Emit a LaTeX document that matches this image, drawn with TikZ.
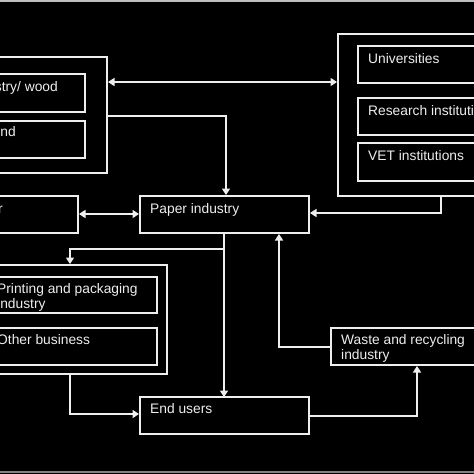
\documentclass[tikz,border=0pt]{standalone}
\usepackage{fontspec}
\setmainfont{Liberation Sans}
\usetikzlibrary{arrows.meta,fit}
\definecolor{fg}{HTML}{EEEEEE}
\definecolor{topline}{HTML}{BEBEBE}
\definecolor{botline}{HTML}{808080}
\begin{document}
\begin{tikzpicture}[x=1pt,y=-1pt,
  box/.style={draw=fg, line width=2pt, inner sep=0pt, fit={#1}},
  lbl/.style={text=fg, font=\fontsize{13.8}{15}\selectfont, inner sep=0pt, anchor=base west, align=left},
  lble/.style={lbl, anchor=base east},
  link/.style={draw=fg, line width=2pt},
  arr/.style={link, -{Triangle[length=6.5pt,width=8pt]}},
  darr/.style={link, {Triangle[length=6.5pt,width=8pt]}-{Triangle[length=6.5pt,width=8pt]}}]
\useasboundingbox (0,0) rectangle (474,474);
\fill[black] (0,0) rectangle (474,474);
\fill[topline] (0,0) rectangle (474,2);
\fill[botline] (0,471) rectangle (474,473);
\clip (0,2) rectangle (474,471);
% left group
\node[box={(-20,57) (107,173)}] (leftgrp) {};
\node[box={(-20,74) (85,112)}] (forest) {};
\node[box={(-20,121) (85,158)}] (land) {};
\node[lble] (forestlbl) at (58,91) {Forestry/ wood};
\node[lble] (landlbl) at (16,136) {nd};
% supplier
\node[box={(-20,196) (78,233)}] (supp) {};
\node[lble] (supplbl) at (3,213) {r};
% paper
\node[box={(140,196) (309,233)}] (paper) {};
\node[lbl] (paperlbl) at (150,213) {Paper industry};
% right group
\node[box={(338,34) (500,196)}] (rightgrp) {};
\node[box={(358,46) (490,83)}] (univ) {};
\node[box={(358,98) (490,135)}] (research) {};
\node[box={(358,143) (490,181)}] (vet) {};
\node[lbl] (univlbl) at (368,63) {Universities};
\node[lbl] (reslbl) at (368,115) {Research institutions};
\node[lbl] (vetlbl) at (368,160) {VET institutions};
% printing group
\node[box={(-20,265) (167,374)}] (printgrp) {};
\node[box={(-13,277) (157,313)}] (printing) {};
\node[box={(-13,328) (157,365)}] (other) {};
\node[lbl] (printlbl1) at (-3,293) {Printing and packaging};
\node[lbl] (printlbl2) at (-3,308) {industry};
\node[lbl] (otherlbl) at (-3,344) {Other business};
% end users
\node[box={(140,397) (309,434)}] (end) {};
\node[lbl] (endlbl) at (150,413) {End users};
% waste
\node[box={(331,328) (500,365)}] (waste) {};
\node[lbl] (wastelbl1) at (341,344) {Waste and recycling};
\node[lbl] (wastelbl2) at (341,359) {industry};
% connectors
\coordinate (c1) at (226,116);
\coordinate (c2) at (441,213);
\coordinate (c3) at (70,249);
\coordinate (c4) at (70,414);
\coordinate (c5) at (417,416);
\coordinate (c6) at (279,347);
\draw[darr] (leftgrp.east |- {(0,82)}) -- (rightgrp.west |- {(0,82)});
\draw[arr] (leftgrp.east |- c1) -- (c1) -- (c1 |- paper.north);
\draw[darr] (supp.east |- {(0,214)}) -- (paper.west |- {(0,214)});
\draw[arr] (c2 |- rightgrp.south) -- (c2) -- (paper.east |- c2);
\draw[arr] (224,233) -- (224,397);
\draw[arr] (224,249) -- (c3) -- (c3 |- printgrp.north);
\draw[arr] (c4 |- printgrp.south) -- (c4) -- (end.west |- c4);
\draw[arr] (end.east |- c5) -- (c5) -- (c5 |- waste.south);
\draw[arr] (waste.west |- c6) -- (c6) -- (c6 |- paper.south);
\end{tikzpicture}
\end{document}
